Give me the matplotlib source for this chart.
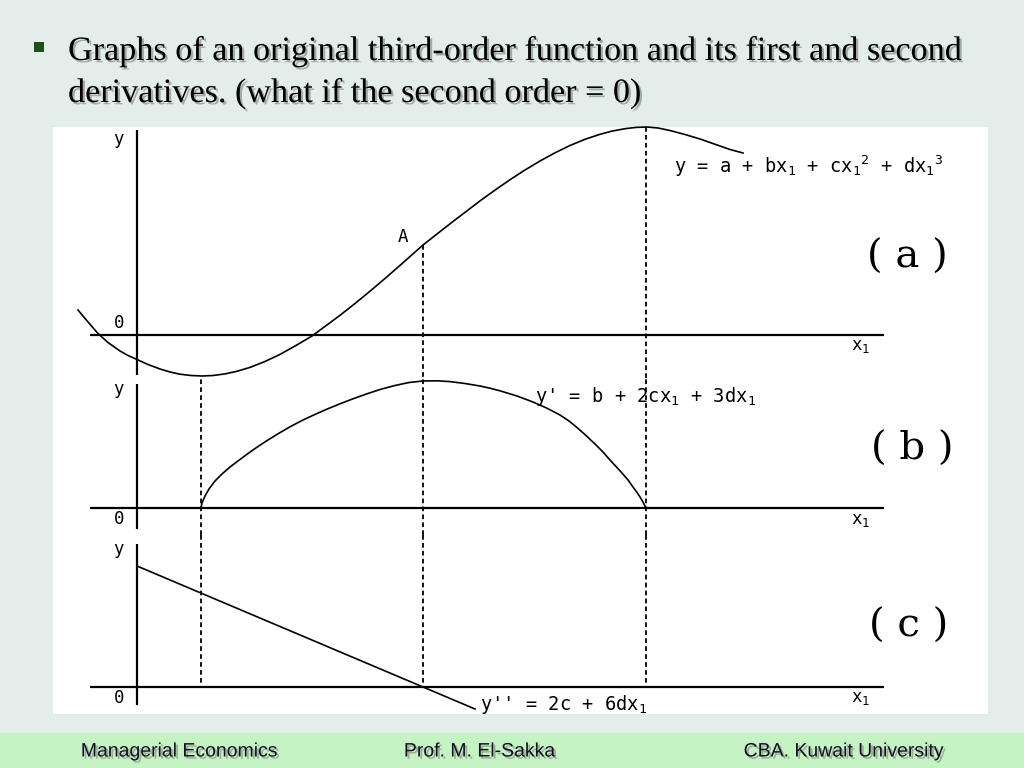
import matplotlib
matplotlib.use("Agg")
import matplotlib.pyplot as plt
import matplotlib.patheffects as pe
from matplotlib.patches import Rectangle

# ---------------- data (x1 units: y-axis at 0) ----------------
# (a) original cubic function y
a_x = [-5.9, -4.9, -3.9, -2.9, -1.7, -0.9, 0.0, 1.1, 2.3, 3.3, 4.3, 5.4, 6.5,
       7.6, 8.8, 10.0, 11.3, 12.8, 14.3, 15.9, 17.5, 18.9, 20.3, 21.8, 23.3,
       24.8, 26.3, 28.6, 31.3, 34.3, 35.8, 37.3, 38.8, 40.3, 41.8, 43.3, 44.8,
       46.3, 47.5, 48.8, 49.9, 51.0, 52.1, 53.3, 54.8, 56.3, 57.3, 58.3, 59.3,
       60.6]
a_y = [2.5, 1.3, 0.15, -0.75, -1.6, -2.05, -2.45, -2.95, -3.4, -3.7, -3.92,
       -4.05, -4.1, -4.05, -3.89, -3.63, -3.24, -2.65, -1.94, -1.05, -0.1, 0.93,
       1.97, 3.15, 4.38, 5.65, 6.96, 9.0, 11.12, 13.41, 14.49, 15.53, 16.5,
       17.4, 18.22, 18.95, 19.57, 20.07, 20.39, 20.63, 20.76, 20.8, 20.7, 20.45,
       20.05, 19.6, 19.25, 18.9, 18.55, 18.2]
# (b) first derivative y'
b_x = [6.4, 6.5, 6.8, 7.2, 7.8, 8.5, 9.3, 10.2, 11.1, 12.0, 13.0, 14.1, 15.3,
       16.6, 18.0, 19.1, 20.3, 21.6, 23.0, 24.4, 25.8, 27.2, 28.6, 30.0, 31.3,
       32.8, 34.3, 35.3, 36.3, 38.0, 39.6, 41.0, 42.3, 43.2, 44.0, 44.9, 45.8,
       46.6, 47.3, 47.9, 48.5, 49.1, 49.6, 50.0, 50.3, 50.6, 50.9]
b_y = [0.0, 0.5, 1.2, 1.9, 2.7, 3.4, 4.1, 4.78, 5.45, 6.08, 6.74, 7.42, 8.12,
       8.8, 9.45, 9.93, 10.42, 10.92, 11.42, 11.88, 12.25, 12.55, 12.7, 12.72,
       12.64, 12.45, 12.2, 11.98, 11.72, 11.2, 10.6, 9.98, 9.3, 8.7, 8.05, 7.25,
       6.4, 5.6, 4.8, 4.15, 3.5, 2.8, 2.1, 1.55, 1.1, 0.6, 0.0]
# (c) second derivative y''
c_x = [0.0, 33.8]
c_y = [12.1, -2.2]
# critical x1 values: minimum, inflection point A, maximum
x_min, x_infl, x_max = 6.4, 28.6, 50.9
y_at_infl, y_at_max = 9.0, 20.8

title_lines = ["Graphs of an original third-order function and its first and second",
               "derivatives. (what if the second order = 0)"]
footer = ["Managerial Economics", "Prof. M. El-Sakka", "CBA. Kuwait University"]

# ---------------- figure ----------------
W, H = 1024, 768
fig = plt.figure(figsize=(W / 100, H / 100), dpi=100)
fig.patch.set_facecolor("#e3eeeb")

bg = fig.add_axes([0, 0, 1, 1])
bg.set_xlim(0, W)
bg.set_ylim(H, 0)
bg.axis("off")

# white diagram panel and footer bar
bg.add_patch(Rectangle((53, 127), 935, 587, facecolor="white", edgecolor="none"))
bg.add_patch(Rectangle((0, 733), W, 35, facecolor="#c6f3c4", edgecolor="none"))

shadow = [pe.SimplePatchShadow(offset=(1.6, -1.6), shadow_rgbFace="#8c8c8c", alpha=0.7),
          pe.Normal()]

# bullet + title
bg.add_patch(Rectangle((34, 42), 10, 10, facecolor="#1d4f1d", edgecolor="none"))
for i, line in enumerate(title_lines):
    bg.text(68, 60 + 42 * i, line, fontsize=24.6, family="Liberation Serif",
            ha="left", va="baseline", color="black", path_effects=shadow)

# footer
fx = [180, 480, 844]
for x, t in zip(fx, footer):
    bg.text(x, 752, t, fontsize=14, family=["Liberation Sans Narrow", "Liberation Sans"],
            ha="center", va="center", color="#111122", path_effects=shadow)

# ---------------- diagram panels ----------------
plt.rcParams["mathtext.fontset"] = "custom"
plt.rcParams["mathtext.rm"] = "DejaVu Sans Mono"
plt.rcParams["mathtext.it"] = "DejaVu Sans Mono"

left, width = 53 / W, 935 / W
xlim = (-8.4, 85.1)

def panel(top_px, bot_px, base_px):
    ax = fig.add_axes([left, 1 - bot_px / H, width, (bot_px - top_px) / H])
    ax.set_xlim(*xlim)
    ax.set_ylim((base_px - bot_px) / 10, (base_px - top_px) / 10)
    ax.axis("off")
    ax.patch.set_alpha(0)
    return ax

axA = panel(125, 379, 335)
axB = panel(379, 535, 508)
axC = panel(535, 713, 687)

lw_axis, lw_curve = 1.6, 1.2
dash = dict(color="black", lw=1.3, linestyle=(0, (2.6, 1.8)))

# axes lines
for ax, ytop, ybot in [(axA, 20.5, -4.0), (axB, 12.4, -2.1), (axC, 14.3, -1.8)]:
    ax.plot([-4.7, 74.7], [0, 0], color="black", lw=lw_axis, solid_capstyle="butt")
    ax.plot([0, 0], [ybot, ytop], color="black", lw=lw_axis, solid_capstyle="butt")

# curves
axA.plot(a_x, a_y, color="black", lw=lw_curve)
axB.plot(b_x, b_y, color="black", lw=lw_curve)
axC.plot(c_x, c_y, color="black", lw=lw_curve)

# dashed verticals
axA.plot([x_infl, x_infl], [y_at_infl, axA.get_ylim()[0]], **dash)
axA.plot([x_max, x_max], [y_at_max, axA.get_ylim()[0]], **dash)
for xv in (x_min, x_infl, x_max):
    axB.plot([xv, xv], list(axB.get_ylim()), **dash)
    axC.plot([xv, xv], [axC.get_ylim()[1], 0.3], **dash)

# panel annotations (pixel coords on background axes)
mono = dict(family="DejaVu Sans Mono", color="black", fontsize=12.5)
for ypx in (139, 389, 549):
    bg.text(118, ypx, "y", ha="center", va="center", **mono)
for ypx in (323, 519, 698):
    bg.text(119, ypx, "0", ha="center", va="center", **mono)
for ypx in (346, 520, 698):
    bg.text(851, ypx, r"x$_1$", ha="left", va="center", **mono)
bg.text(403, 237, "A", ha="center", va="center", **mono)

eq = dict(family="DejaVu Sans Mono", color="black", fontsize=13.5)
bg.text(674, 166, r"y = a + bx$_1$ + cx$_1$$^2$ + dx$_1$$^3$", ha="left", va="center", **eq)
bg.text(535, 397, r"y' = b + 2cx$_1$ + 3dx$_1$", ha="left", va="center", **eq)
bg.text(480, 704, r"y'' = 2c + 6dx$_1$", ha="left", va="center", **eq)

big = dict(family="DejaVu Serif", fontsize=29, color="black", ha="center", va="center")
bg.text(907, 257, "( a )", **big)
bg.text(912, 449, "( b )", **big)
bg.text(909, 626, "( c )", **big)

fig.savefig("out.png", dpi=100, facecolor=fig.get_facecolor())
